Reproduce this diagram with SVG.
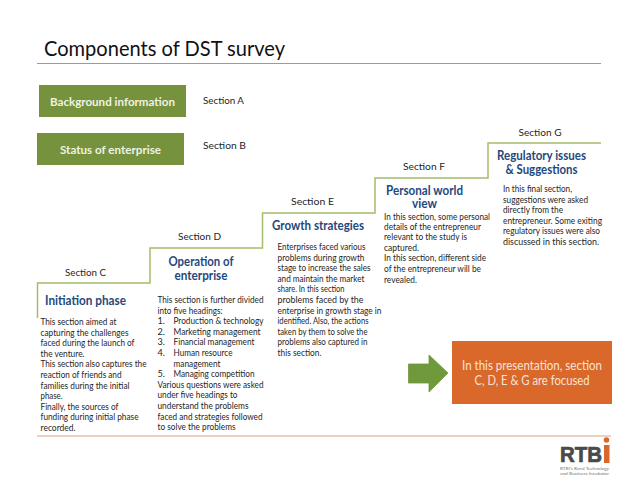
<svg xmlns="http://www.w3.org/2000/svg" width="638" height="478" viewBox="0 0 638 478">
<style>
text{font-family:Lato,"Liberation Sans",sans-serif;}
.s{font-size:10.4px;fill:#262626;}
.b{font-size:9.1px;fill:#262626;}
.h{font-size:12.6px;font-weight:700;fill:#1f497d;}
.w{font-size:12.2px;font-weight:700;fill:#eef2e4;text-anchor:middle;}
.o{font-size:13px;fill:#f7e4d8;text-anchor:middle;}
.m{text-anchor:middle;}
.box{fill:#76923c;}
</style>
<rect width="638" height="478" fill="#fff"/>
<g id="title">
<text x="44" y="56" font-size="21" fill="#111" textLength="241" lengthAdjust="spacingAndGlyphs">Components of DST survey</text>
<line x1="37" y1="63.500" x2="601" y2="63.500" stroke="#d08a66" stroke-width="1"/>
</g>
<g id="connectors">
<polyline points="37.500,318 37.500,283 150,283 150,248 262.500,248 262.500,213 375,213 375,178 488,178 488,143 601,143" fill="none" stroke="#a4bd6b" stroke-width="1.500"/>
<line x1="37" y1="436" x2="611" y2="436" stroke="#d9a48a" stroke-width="1.200"/>
</g>
<g id="node-background">
<rect class="box" x="39" y="85" width="147" height="32"/>
<text class="w" x="112.500" y="105.500" textLength="125" lengthAdjust="spacingAndGlyphs">Background information</text>
<text class="s" x="203" y="104" textLength="41" lengthAdjust="spacingAndGlyphs">Section A</text>
</g>
<g id="node-status">
<rect class="box" x="37" y="133" width="147" height="32"/>
<text class="w" x="110.500" y="153.500" textLength="101" lengthAdjust="spacingAndGlyphs">Status of enterprise</text>
<text class="s" x="203" y="148.500" textLength="43" lengthAdjust="spacingAndGlyphs">Section  B</text>
</g>
<g id="node-c">
<text class="s" x="65" y="276" textLength="41" lengthAdjust="spacingAndGlyphs">Section C</text>
<text class="h" x="45" y="305" textLength="81" lengthAdjust="spacingAndGlyphs">Initiation phase</text>
<text class="b" x="40.500" y="325" textLength="76" lengthAdjust="spacingAndGlyphs">This section aimed at</text>
<text class="b" x="40.500" y="335.600" textLength="88" lengthAdjust="spacingAndGlyphs">capturing the challenges</text>
<text class="b" x="40.500" y="346.200" textLength="94" lengthAdjust="spacingAndGlyphs">faced during the launch of</text>
<text class="b" x="40.500" y="356.800" textLength="44" lengthAdjust="spacingAndGlyphs">the venture.</text>
<text class="b" x="40.500" y="367.400" textLength="106" lengthAdjust="spacingAndGlyphs">This section also captures the</text>
<text class="b" x="40.500" y="378" textLength="81" lengthAdjust="spacingAndGlyphs">reaction of friends and</text>
<text class="b" x="40.500" y="388.600" textLength="89" lengthAdjust="spacingAndGlyphs">families during the initial</text>
<text class="b" x="40.500" y="399.200" textLength="22" lengthAdjust="spacingAndGlyphs">phase.</text>
<text class="b" x="40.500" y="409.800" textLength="78" lengthAdjust="spacingAndGlyphs">Finally, the sources of</text>
<text class="b" x="40.500" y="420.400" textLength="98" lengthAdjust="spacingAndGlyphs">funding during initial phase</text>
<text class="b" x="40.500" y="431" textLength="35" lengthAdjust="spacingAndGlyphs">recorded.</text>
</g>
<g id="node-d">
<text class="s" x="178" y="240" textLength="43" lengthAdjust="spacingAndGlyphs">Section  D</text>
<text class="h m" x="201" y="266" textLength="65" lengthAdjust="spacingAndGlyphs">Operation of</text>
<text class="h m" x="201" y="280" textLength="53" lengthAdjust="spacingAndGlyphs">enterprise</text>
<text class="b" x="157.500" y="303" textLength="106" lengthAdjust="spacingAndGlyphs">This section is further divided</text>
<text class="b" x="157.500" y="313.600" textLength="65" lengthAdjust="spacingAndGlyphs">into five headings:</text>
<text class="b" x="157.500" y="324.200">1.</text><text class="b" x="173.500" y="324.200" textLength="90" lengthAdjust="spacingAndGlyphs">Production &amp; technology</text>
<text class="b" x="157.500" y="334.800">2.</text><text class="b" x="173.500" y="334.800" textLength="87" lengthAdjust="spacingAndGlyphs">Marketing management</text>
<text class="b" x="157.500" y="345.400">3.</text><text class="b" x="173.500" y="345.400" textLength="81" lengthAdjust="spacingAndGlyphs">Financial management</text>
<text class="b" x="157.500" y="356">4.</text><text class="b" x="173.500" y="356" textLength="59" lengthAdjust="spacingAndGlyphs">Human resource</text>
<text class="b" x="173.500" y="366.600" textLength="47" lengthAdjust="spacingAndGlyphs">management</text>
<text class="b" x="157.500" y="377.200">5.</text><text class="b" x="173.500" y="377.200" textLength="81" lengthAdjust="spacingAndGlyphs">Managing competition</text>
<text class="b" x="157.500" y="387.800" textLength="106" lengthAdjust="spacingAndGlyphs">Various questions were asked</text>
<text class="b" x="157.500" y="398.400" textLength="80" lengthAdjust="spacingAndGlyphs">under five headings to</text>
<text class="b" x="157.500" y="409" textLength="91" lengthAdjust="spacingAndGlyphs">understand the problems</text>
<text class="b" x="157.500" y="419.600" textLength="105" lengthAdjust="spacingAndGlyphs">faced and strategies followed</text>
<text class="b" x="157.500" y="430.200" textLength="78" lengthAdjust="spacingAndGlyphs">to solve the problems</text>
</g>
<g id="node-e">
<text class="s" x="291" y="205" textLength="43" lengthAdjust="spacingAndGlyphs">Section  E</text>
<text class="h" x="272" y="230" textLength="92" lengthAdjust="spacingAndGlyphs">Growth strategies</text>
<text class="b" x="277.500" y="250" textLength="88" lengthAdjust="spacingAndGlyphs">Enterprises faced various</text>
<text class="b" x="277.500" y="260.600" textLength="87" lengthAdjust="spacingAndGlyphs">problems during growth</text>
<text class="b" x="277.500" y="271.200" textLength="93" lengthAdjust="spacingAndGlyphs">stage to increase the sales</text>
<text class="b" x="277.500" y="281.800" textLength="87" lengthAdjust="spacingAndGlyphs">and maintain the market</text>
<text class="b" x="277.500" y="292.400" textLength="67" lengthAdjust="spacingAndGlyphs">share. In this section</text>
<text class="b" x="277.500" y="303" textLength="86" lengthAdjust="spacingAndGlyphs">problems faced by the</text>
<text class="b" x="277.500" y="313.600" textLength="104" lengthAdjust="spacingAndGlyphs">enterprise in growth stage in</text>
<text class="b" x="277.500" y="324.200" textLength="91" lengthAdjust="spacingAndGlyphs">identified. Also, the actions</text>
<text class="b" x="277.500" y="334.800" textLength="90" lengthAdjust="spacingAndGlyphs">taken by them to solve the</text>
<text class="b" x="277.500" y="345.400" textLength="90" lengthAdjust="spacingAndGlyphs">problems also captured in</text>
<text class="b" x="277.500" y="356" textLength="44" lengthAdjust="spacingAndGlyphs">this section.</text>
</g>
<g id="node-f">
<text class="s" x="403" y="170" textLength="42" lengthAdjust="spacingAndGlyphs">Section  F</text>
<text class="h m" x="424.500" y="194.500" textLength="77" lengthAdjust="spacingAndGlyphs">Personal world</text>
<text class="h m" x="424.500" y="207.500" textLength="25" lengthAdjust="spacingAndGlyphs">view</text>
<text class="b" x="384" y="219.500" textLength="106" lengthAdjust="spacingAndGlyphs">In this section, some personal</text>
<text class="b" x="384" y="229.800" textLength="97" lengthAdjust="spacingAndGlyphs">details of the entrepreneur</text>
<text class="b" x="384" y="240.200" textLength="83" lengthAdjust="spacingAndGlyphs">relevant to the study is</text>
<text class="b" x="384" y="250.800" textLength="35" lengthAdjust="spacingAndGlyphs">captured.</text>
<text class="b" x="384" y="261.400" textLength="102" lengthAdjust="spacingAndGlyphs">In this section, different side</text>
<text class="b" x="384" y="272" textLength="97" lengthAdjust="spacingAndGlyphs">of the entrepreneur will be</text>
<text class="b" x="384" y="282.600" textLength="33" lengthAdjust="spacingAndGlyphs">revealed.</text>
</g>
<g id="node-g">
<text class="s" x="518.500" y="136" textLength="43" lengthAdjust="spacingAndGlyphs">Section  G</text>
<text class="h m" x="541.500" y="160" textLength="89" lengthAdjust="spacingAndGlyphs">Regulatory issues</text>
<text class="h m" x="541.500" y="174" textLength="72" lengthAdjust="spacingAndGlyphs">&amp; Suggestions</text>
<text class="b" x="503" y="192" textLength="69" lengthAdjust="spacingAndGlyphs">In this final section,</text>
<text class="b" x="503" y="202.600" textLength="85" lengthAdjust="spacingAndGlyphs">suggestions were asked</text>
<text class="b" x="503" y="213.200" textLength="60" lengthAdjust="spacingAndGlyphs">directly from the</text>
<text class="b" x="503" y="223.800" textLength="99" lengthAdjust="spacingAndGlyphs">entrepreneur. Some exiting</text>
<text class="b" x="503" y="234.400" textLength="97" lengthAdjust="spacingAndGlyphs">regulatory issues were also</text>
<text class="b" x="503" y="245" textLength="96" lengthAdjust="spacingAndGlyphs">discussed in this section.</text>
</g>
<g id="node-arrow">
<polygon points="408.500,364 429,364 429,355 448,373 429,392 429,383 408.500,383" fill="#6f9a3c" stroke="#76923c" stroke-width="0.800"/>
</g>
<g id="node-focus">
<rect x="452" y="341" width="160" height="63" fill="#d9682a"/>
<text class="o" x="532" y="370" textLength="140" lengthAdjust="spacingAndGlyphs">In this presentation, section</text>
<text class="o" x="532" y="385" textLength="115" lengthAdjust="spacingAndGlyphs">C, D, E &amp; G are focused</text>
</g>
<g id="node-logo">
<text x="560" y="462" font-size="22" font-weight="700" fill="#4a4a4a" stroke="#4a4a4a" stroke-width="0.700" style="font-family:'Liberation Sans',sans-serif" textLength="42" lengthAdjust="spacingAndGlyphs">RTB</text>
<rect x="604" y="445" width="5.500" height="18" fill="#d9682a"/>
<circle cx="606.500" cy="440" r="2.800" fill="#d9682a"/>
<text x="560" y="469.500" font-size="4.400" fill="#777" textLength="49" lengthAdjust="spacingAndGlyphs">RTBI's Rural Technology</text>
<text x="560" y="474.500" font-size="4.400" fill="#777" textLength="49" lengthAdjust="spacingAndGlyphs">and Business Incubator</text>
</g>
</svg>
